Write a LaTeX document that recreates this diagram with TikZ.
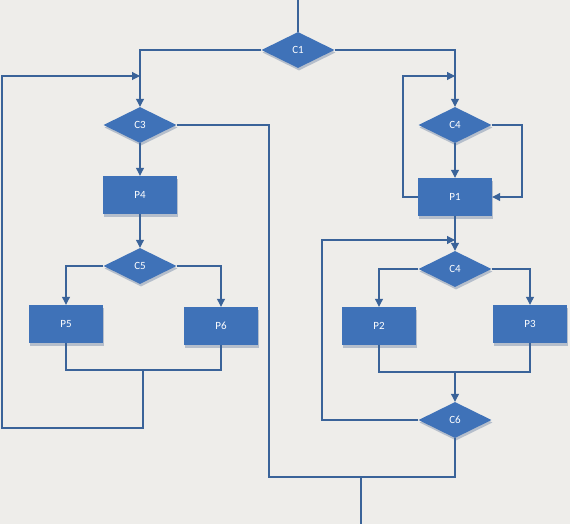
\documentclass[tikz,border=0pt]{standalone}
\usepackage{fontspec}
\setmainfont{Carlito}
\usetikzlibrary{shapes.geometric,arrows.meta,shadows}
\definecolor{boxblue}{HTML}{3F72B8}
\definecolor{lineblue}{HTML}{3A6399}
\definecolor{bgcol}{HTML}{EEEDEA}
\definecolor{shadcol}{HTML}{A7B3C4}
\begin{document}
\begin{tikzpicture}[x=1pt,y=-1pt,
  shad/.style={drop shadow={shadow xshift=1pt,shadow yshift=-2.5pt,fill=shadcol,opacity=0.8}},
  dec/.style={diamond,aspect=2,minimum width=73pt,minimum height=36pt,inner sep=0pt,
    fill=boxblue,text=white,font=\fontsize{11}{12}\selectfont,shad},
  proc/.style={rectangle,minimum width=74pt,minimum height=38pt,inner sep=0pt,
    fill=boxblue,text=white,font=\fontsize{11}{12}\selectfont,shad},
  conn/.style={draw=lineblue,line width=1.1pt},
  arr/.style={conn,-{Triangle[length=8pt,width=8pt]}}]
\fill[bgcol] (0,0) rectangle (570,524);
\useasboundingbox (0,0) rectangle (570,524);

% nodes
\node[dec]  (C1)  at (298,50)  {C1};
\node[dec]  (C3)  at (140,125) {C3};
\node[proc] (P4)  at (140,195) {P4};
\node[dec]  (C5)  at (140,266) {C5};
\node[proc] (P5)  at (66,324)  {P5};
\node[proc] (P6)  at (221,326) {P6};
\node[dec]  (C4a) at (455,125) {C4};
\node[proc] (P1)  at (455,197) {P1};
\node[dec]  (C4b) at (455,269) {C4};
\node[proc] (P2)  at (379,326) {P2};
\node[proc] (P3)  at (530,324) {P3};
\node[dec]  (C6)  at (455,420) {C6};

% coordinates
\coordinate (top)   at (298,0);
\coordinate (bot)   at (361,524);
\coordinate (m3)    at (140,76);
\coordinate (m4)    at (455,76);
\coordinate (m5)    at (455,240);
\coordinate (j1)    at (143,370);
\coordinate (j1b)   at (143,428);
\coordinate (l1)    at (2,428);
\coordinate (l2)    at (2,76);
\coordinate (r3)    at (269,125);
\coordinate (r3b)   at (269,477);
\coordinate (exitj) at (361,477);
\coordinate (lp1)   at (403,197);
\coordinate (rc4)   at (522,125);
\coordinate (lc6)   at (322,420);
\coordinate (j2)    at (455,372);

% left part
\draw[conn] (top) -- (C1.north);
\draw[arr] (C1.west) -| (C3.north);
\draw[arr] (j1) -- (j1b) -- (l1) -- (l2) -- (m3);
\draw[arr] (C3) -- (P4);
\draw[arr] (P4) -- (C5);
\draw[arr] (C5.west) -| (P5.north);
\draw[arr] (C5.east) -| (P6.north);
\draw[conn] (P5.south) -- (P5.south |- j1) -- (P6.south |- j1) -- (P6.south);
\draw[conn] (C3.east) -- (r3) -- (r3b) -- (exitj);

% right part
\draw[arr] (C1.east) -| (C4a.north);
\draw[arr] (P1.west) -- (lp1) |- (m4);
\draw[arr] (C4a) -- (P1);
\draw[arr] (C4a.east) -- (rc4) |- (P1.east);
\draw[arr] (P1) -- (C4b);
\draw[arr] (C6.west) -- (lc6) |- (m5);
\draw[arr] (C4b.west) -| (P2.north);
\draw[arr] (C4b.east) -| (P3.north);
\draw[conn] (P2.south) -- (P2.south |- j2) -- (P3.south |- j2) -- (P3.south);
\draw[arr] (j2) -- (C6);
\draw[conn] (C6.south) |- (exitj);
\draw[conn] (exitj) -- (bot);
\end{tikzpicture}
\end{document}
